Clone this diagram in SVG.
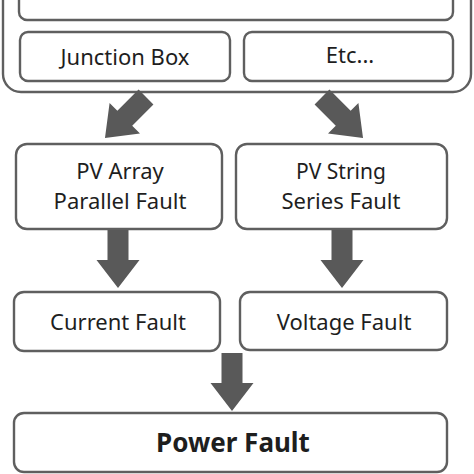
<svg xmlns="http://www.w3.org/2000/svg" width="474" height="474" viewBox="0 0 474 474">
<defs>
<style>
.box{fill:#fff;stroke:#5f5f5f;stroke-width:2.4}
.t{font-family:"Noto Sans","DejaVu Sans",sans-serif;font-size:22px;fill:#1e1e1e;text-anchor:middle}
.s{font-size:21px}
.b{font-weight:bold;font-size:26px}
.arr{fill:#595959}
</style>
<polygon id="ar" points="-10.5,0 10.5,0 10.5,30 21.5,30 0,58 -21.5,30 -10.5,30"/>
</defs>
<rect width="474" height="474" fill="#fff"/>
<g id="container">
<rect class="box" x="3" y="-60" width="468" height="152" rx="18"/>
</g>
<g id="top-box">
<rect class="box" x="19" y="-40" width="434" height="60" rx="8"/>
</g>
<g id="junction-box">
<rect class="box" x="20" y="32" width="210" height="49" rx="8"/>
<text class="t" x="125" y="65">Junction Box</text>
</g>
<g id="etc">
<rect class="box" x="244" y="32" width="209" height="49" rx="8"/>
<text class="t" x="350" y="63">Etc...</text>
</g>
<g id="pv-array">
<rect class="box" x="16" y="144" width="206" height="85" rx="11"/>
<text class="t" x="120" y="179">PV Array</text>
<text class="t" x="120" y="209">Parallel Fault</text>
</g>
<g id="pv-string">
<rect class="box" x="236" y="144" width="211" height="85" rx="11"/>
<text class="t s" x="341" y="179">PV String</text>
<text class="t" x="341" y="209">Series Fault</text>
</g>
<g id="current-fault">
<rect class="box" x="14" y="292" width="206" height="59" rx="10"/>
<text class="t" x="118" y="330">Current Fault</text>
</g>
<g id="voltage-fault">
<rect class="box" x="240" y="292" width="207" height="58" rx="10"/>
<text class="t" x="344" y="330">Voltage Fault</text>
</g>
<g id="power-fault">
<rect class="box" x="14" y="413" width="433" height="59" rx="10"/>
<text class="t b" x="233" y="452">Power Fault</text>
</g>
<g id="connectors" class="arr">
<use href="#ar" transform="translate(146,97) rotate(45)"/>
<use href="#ar" transform="translate(322,97) rotate(-45)"/>
<use href="#ar" transform="translate(118,230)"/>
<use href="#ar" transform="translate(342,230)"/>
<use href="#ar" transform="translate(232,353)"/>
</g>
</svg>
